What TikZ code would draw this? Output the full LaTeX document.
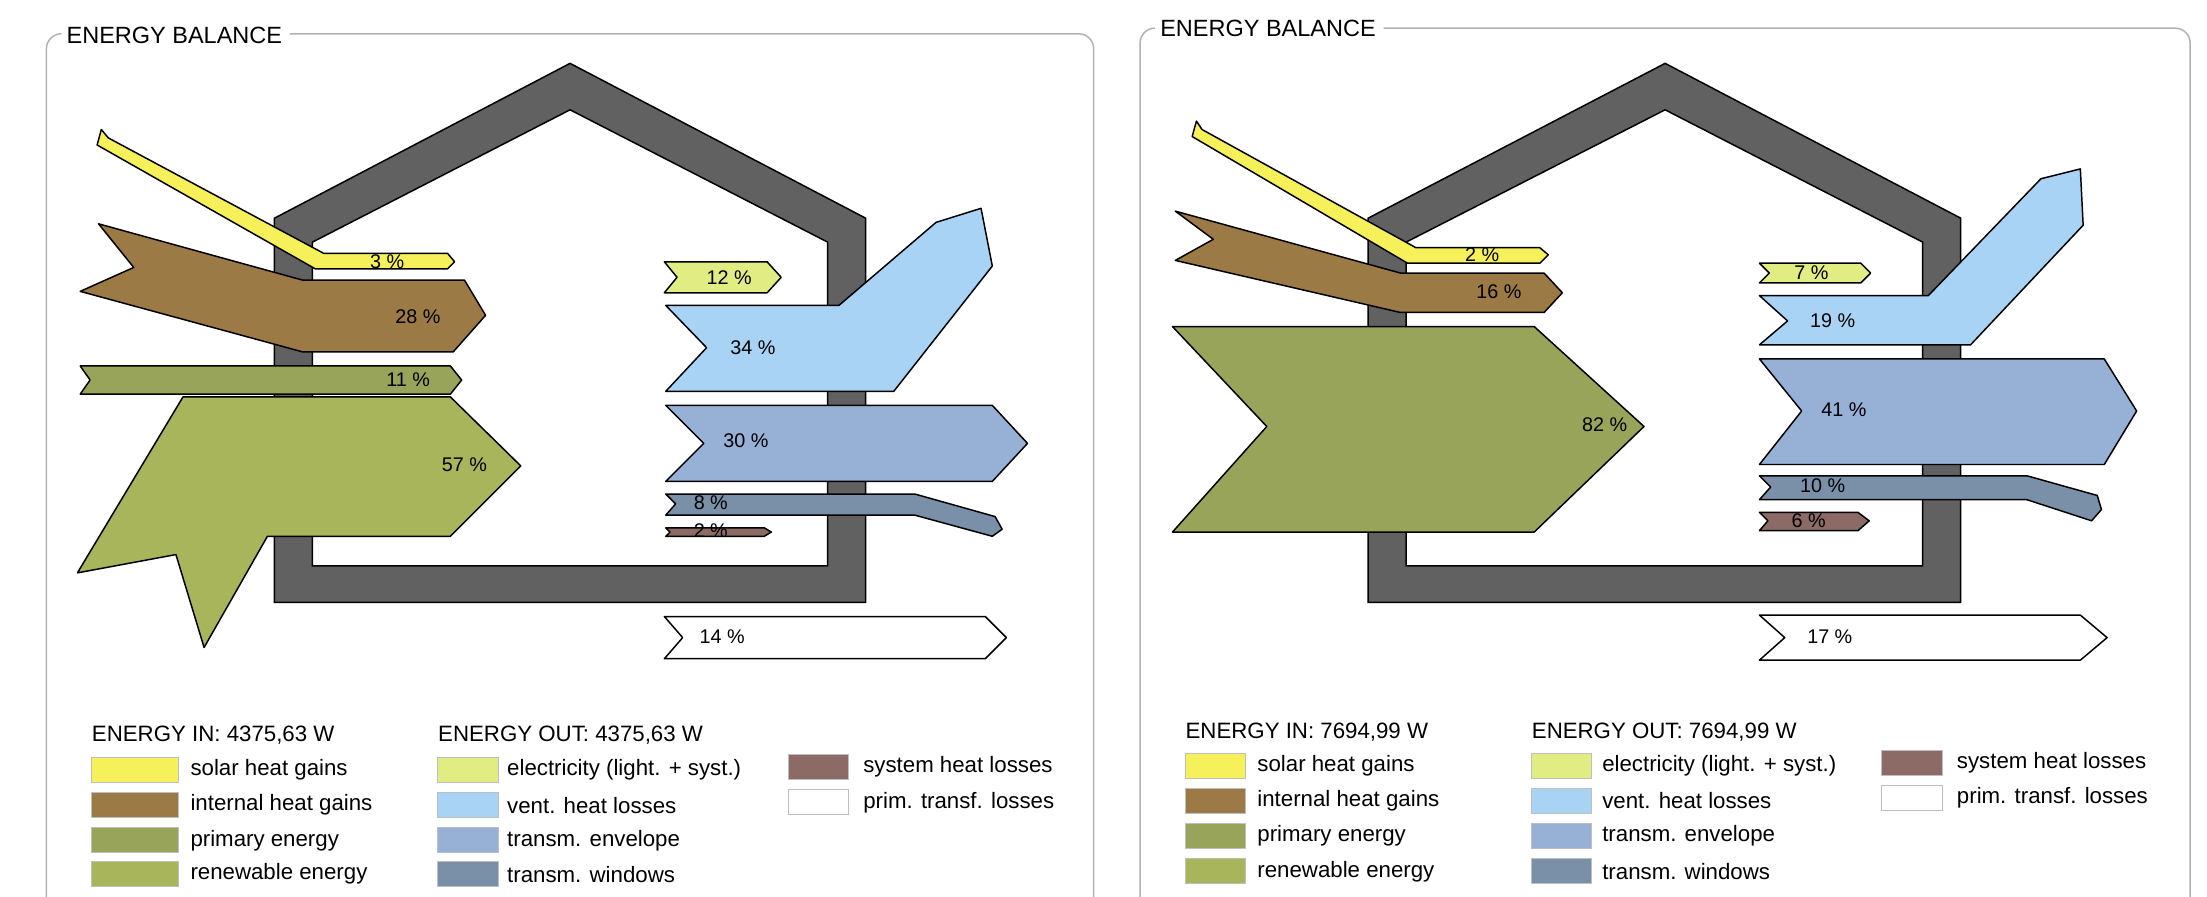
\documentclass[tikz,border=0pt]{standalone}
\usepackage{fontspec}
\setmainfont{Liberation Sans}
\begin{document}
\begin{tikzpicture}[x=0.02cm,y=-0.02cm,
  ar/.style={draw=black,line width=0.6pt,line join=round},
  wall/.style={fill=black!62,draw=black,line width=0.6pt,even odd rule},
  pct/.style={font=\fontsize{8}{9}\selectfont,inner sep=0pt},
  lg/.style={font=\fontsize{9}{10}\selectfont,anchor=west,inner sep=0pt},
  hd/.style={font=\fontsize{9}{10}\selectfont,anchor=west,inner sep=0pt},
  sw/.style={draw=black!25,line width=0.4pt},
  frame/.style={draw=black!30,line width=0.6pt,rounded corners=6pt}]
\definecolor{csol}{HTML}{F6F05A}
\definecolor{cint}{HTML}{9B7A45}
\definecolor{cpri}{HTML}{98A45A}
\definecolor{cren}{HTML}{A8B55A}
\definecolor{cele}{HTML}{E1EC82}
\definecolor{cven}{HTML}{A9D3F5}
\definecolor{cenv}{HTML}{97B0D6}
\definecolor{cwin}{HTML}{7A8FA8}
\definecolor{csys}{HTML}{8C6A66}
\useasboundingbox (0,0) rectangle (1568,637);
% ---------------- LEFT PANEL ----------------
\draw[frame] (206,24) -- (777,24) -- (777,650) (33,650) -- (33,24) -- (42,24);
\node[hd,font=\fontsize{9.5}{10}\selectfont] (t1) at (47,25) {ENERGY BALANCE};
\draw[wall] (195,155) -- (405,45) -- (615,155) -- (615,428) -- (195,428) -- cycle
  (222,172) -- (405,78) -- (588,172) -- (588,402) -- (222,402) -- cycle;
% inputs
\draw[ar,fill=csol] (72,92) -- (77,98) -- (230,180) -- (318,180) -- (323,186) -- (318,191) -- (224,191) -- (69,103) -- cycle;
\draw[ar,fill=cint] (70,159) -- (215,199) -- (330,199) -- (345,224) -- (322,250) -- (215,250) -- (57,207) -- (95,190) -- cycle;
\draw[ar,fill=cpri] (57,260) -- (320,260) -- (328,270) -- (320,280) -- (57,280) -- (64,270) -- cycle;
\draw[ar,fill=cren] (130,282) -- (320,282) -- (370,331) -- (320,381) -- (190,381) -- (145,460) -- (125,394) -- (55,407) -- cycle;
% outputs
\draw[ar,fill=cele] (472,186) -- (545,186) -- (555,197) -- (545,208) -- (472,208) -- (481,197) -- cycle;
\draw[ar,fill=cven] (473,217) -- (596,217) -- (665,158) -- (697,148) -- (705,189) -- (635,278) -- (473,278) -- (502,247) -- cycle;
\draw[ar,fill=cenv] (473,288) -- (705,288) -- (730,315) -- (705,342) -- (473,342) -- (500,315) -- cycle;
\draw[ar,fill=cwin] (473,351) -- (650,351) -- (707,367) -- (712,376) -- (705,381) -- (650,366) -- (473,366) -- (480,358) -- cycle;
\draw[ar,fill=csys] (473,375) -- (543,375) -- (548,378) -- (543,381) -- (473,381) -- (476,378) -- cycle;
\draw[ar,fill=white] (472,438) -- (700,438) -- (715,453) -- (700,468) -- (472,468) -- (485,453) -- cycle;
\node[pct] (l3) at (275,186) {3 \%};
\node[pct] (l28) at (297,225) {28 \%};
\node[pct] (l11) at (290,270) {11 \%};
\node[pct] (l57) at (330,330) {57 \%};
\node[pct] (l12) at (518,197) {12 \%};
\node[pct] (l34) at (535,247) {34 \%};
\node[pct] (l30) at (530,313) {30 \%};
\node[pct] (l8) at (505,357) {8 \%};
\node[pct] (l2) at (505,377) {2 \%};
\node[pct] (l14) at (513,452) {14 \%};
% legend
\node[hd] (h1) at (65,522) {ENERGY IN: 4375,63 W};
\node[hd] (h2) at (311,522) {ENERGY OUT: 4375,63 W};
\foreach \y/\c/\t in {547/csol/solar heat gains,572/cint/internal heat gains,597/cpri/primary energy,621/cren/renewable energy}{
  \draw[sw,fill=\c] (65,\y-9) rectangle (127,\y+9); \node[lg] at (135,\y) {\t};}
\foreach \y/\c/\t in {547/cele/electricity (light. + syst.),572/cven/vent. heat losses,597/cenv/transm. envelope,621/cwin/transm. windows}{
  \draw[sw,fill=\c] (311,\y-9) rectangle (354,\y+9); \node[lg] at (360,\y) {\t};}
\foreach \y/\c/\t in {545/csys/system heat losses,570/white/prim. transf. losses}{
  \draw[sw,fill=\c] (560,\y-9) rectangle (603,\y+9); \node[lg] at (613,\y) {\t};}
% ---------------- RIGHT PANEL ----------------
\draw[frame] (983,20) -- (1556,20) -- (1556,650) (810,650) -- (810,20) -- (820,20);
\node[hd,font=\fontsize{9.5}{10}\selectfont] (t2) at (824,20) {ENERGY BALANCE};
\draw[wall] (972,155) -- (1183,45) -- (1393,155) -- (1393,428) -- (972,428) -- cycle
  (999,172) -- (1183,78) -- (1366,172) -- (1366,402) -- (999,402) -- cycle;
\draw[ar,fill=csol] (850,86) -- (854,92) -- (1006,176) -- (1094,176) -- (1100,181) -- (1094,187) -- (1000,187) -- (847,97) -- cycle;
\draw[ar,fill=cint] (835,150) -- (995,194) -- (1097,194) -- (1110,208) -- (1097,222) -- (995,222) -- (835,185) -- (862,170) -- cycle;
\draw[ar,fill=cpri] (833,232) -- (1090,232) -- (1168,303) -- (1090,378) -- (833,378) -- (900,303) -- cycle;
\draw[ar,fill=cele] (1250,187) -- (1322,187) -- (1329,194) -- (1322,201) -- (1250,201) -- (1257,194) -- cycle;
\draw[ar,fill=cven] (1250,210) -- (1370,210) -- (1450,127) -- (1478,120) -- (1480,160) -- (1400,245) -- (1250,245) -- (1270,228) -- cycle;
\draw[ar,fill=cenv] (1250,255) -- (1495,255) -- (1518,292) -- (1495,330) -- (1250,330) -- (1280,292) -- cycle;
\draw[ar,fill=cwin] (1250,338) -- (1440,338) -- (1490,352) -- (1493,362) -- (1486,370) -- (1440,355) -- (1250,355) -- (1258,346) -- cycle;
\draw[ar,fill=csys] (1250,364) -- (1320,364) -- (1328,370) -- (1320,377) -- (1250,377) -- (1256,370) -- cycle;
\draw[ar,fill=white] (1250,437) -- (1478,437) -- (1497,453) -- (1478,469) -- (1250,469) -- (1268,453) -- cycle;
\node[pct] (r2) at (1053,181) {2 \%};
\node[pct] (r16) at (1065,207) {16 \%};
\node[pct] (r82) at (1140,302) {82 \%};
\node[pct] (r7) at (1287,194) {7 \%};
\node[pct] (r19) at (1302,228) {19 \%};
\node[pct] (r41) at (1310,291) {41 \%};
\node[pct] (r10) at (1295,345) {10 \%};
\node[pct] (r6) at (1285,370) {6 \%};
\node[pct] (r17) at (1300,452) {17 \%};
\node[hd] (h3) at (842,520) {ENERGY IN: 7694,99 W};
\node[hd] (h4) at (1088,520) {ENERGY OUT: 7694,99 W};
\foreach \y/\c/\t in {544/csol/solar heat gains,569/cint/internal heat gains,594/cpri/primary energy,619/cren/renewable energy}{
  \draw[sw,fill=\c] (842,\y-9) rectangle (885,\y+9); \node[lg] at (893,\y) {\t};}
\foreach \y/\c/\t in {544/cele/electricity (light. + syst.),569/cven/vent. heat losses,594/cenv/transm. envelope,619/cwin/transm. windows}{
  \draw[sw,fill=\c] (1088,\y-9) rectangle (1131,\y+9); \node[lg] at (1138,\y) {\t};}
\foreach \y/\c/\t in {542/csys/system heat losses,567/white/prim. transf. losses}{
  \draw[sw,fill=\c] (1337,\y-9) rectangle (1380,\y+9); \node[lg] at (1390,\y) {\t};}
\end{tikzpicture}
\end{document}
